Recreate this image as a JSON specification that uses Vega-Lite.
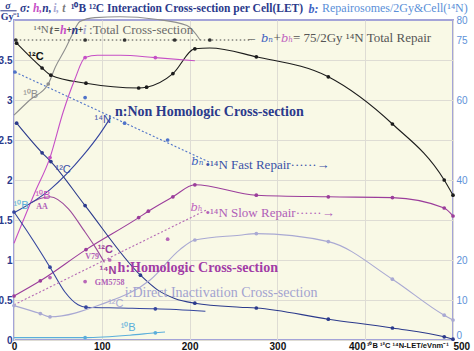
{
"$schema": "https://vega.github.io/schema/vega-lite/v6.json",
"width": 439, "height": 320,
"autosize": {"type": "none"},
"padding": {"left": 14, "top": 20, "right": 21, "bottom": 11},
"background": "#ffffff",
"config": {
  "view": {"fill": "#f9f9e6", "stroke": "#a4a4d8", "strokeWidth": 2},
  "axis": {"gridColor": "#dedcd4", "gridWidth": 1, "domain": false, "ticks": false, "labelFont": "Liberation Sans", "labelFontWeight": "bold", "labelFontSize": 10},
  "axisBottom": {"labelColor": "#111111", "labelPadding": 1},
  "axisLeft": {"labelColor": "#2b3a8c", "labelPadding": 2},
  "axisRight": {"labelColor": "#5d92d8", "labelPadding": 3, "labelFontWeight": "normal"},
  "text": {"baseline": "middle"}
},
"datasets": {
  "curves": [
    {"s":"t14N","x":3,"y":3.71},{"s":"t14N","x":32,"y":3.40},{"s":"t14N","x":42,"y":3.31},{"s":"t14N","x":82,"y":3.21},{"s":"t14N","x":142,"y":3.15},{"s":"t14N","x":151,"y":3.16},{"s":"t14N","x":181,"y":3.33},{"s":"t14N","x":206,"y":3.64},{"s":"t14N","x":223,"y":3.65},{"s":"t14N","x":276,"y":3.54},{"s":"t14N","x":358,"y":3.29},{"s":"t14N","x":431,"y":2.70},{"s":"t14N","x":490,"y":2.0},{"s":"t14N","x":500,"y":1.81},
    {"s":"t10B","x":0,"y":2.81},{"s":"t10B","x":18,"y":3.0},{"s":"t10B","x":39,"y":3.2},{"s":"t10B","x":47,"y":3.41},{"s":"t10B","x":58,"y":3.63},{"s":"t10B","x":66,"y":3.81},{"s":"t10B","x":75,"y":3.98},{"s":"t10B","x":92,"y":4.03},{"s":"t10B","x":121,"y":4.04},{"s":"t10B","x":161,"y":4.01},{"s":"t10B","x":197,"y":3.93},{"s":"t10B","x":212,"y":3.75},
    {"s":"h10B","x":0,"y":1.21},{"s":"h10B","x":24,"y":1.85},{"s":"h10B","x":41,"y":2.28},{"s":"h10B","x":56,"y":2.85},{"s":"h10B","x":69,"y":3.25},{"s":"h10B","x":81,"y":3.53},{"s":"h10B","x":95,"y":3.56},{"s":"h10B","x":121,"y":3.56},{"s":"h10B","x":161,"y":3.53},{"s":"h10B","x":206,"y":3.49},
    {"s":"h14N","x":0,"y":0.55},{"s":"h14N","x":30,"y":0.74},{"s":"h14N","x":82,"y":1.13},{"s":"h14N","x":142,"y":1.53},{"s":"h14N","x":153,"y":1.61},{"s":"h14N","x":181,"y":1.79},{"s":"h14N","x":206,"y":1.94},{"s":"h14N","x":276,"y":1.81},{"s":"h14N","x":358,"y":1.79},{"s":"h14N","x":431,"y":1.78},{"s":"h14N","x":490,"y":1.65},{"s":"h14N","x":500,"y":1.55},
    {"s":"hAA","x":20,"y":1.72},{"s":"hAA","x":30,"y":1.77},{"s":"hAA","x":41,"y":1.79},{"s":"hAA","x":62,"y":1.64},{"s":"hAA","x":79,"y":1.38},{"s":"hAA","x":92,"y":1.17},{"s":"hAA","x":103,"y":0.97},
    {"s":"n12C","x":3,"y":2.71},{"s":"n12C","x":32,"y":2.34},{"s":"n12C","x":42,"y":2.23},{"s":"n12C","x":81,"y":1.68},{"s":"n12C","x":144,"y":0.81},{"s":"n12C","x":163,"y":0.63},{"s":"n12C","x":183,"y":0.52},{"s":"n12C","x":206,"y":0.46},{"s":"n12C","x":257,"y":0.41},{"s":"n12C","x":276,"y":0.40},{"s":"n12C","x":358,"y":0.26},{"s":"n12C","x":431,"y":0.15},{"s":"n12C","x":490,"y":0.04},{"s":"n12C","x":500,"y":0.01},
    {"s":"n10B","x":0,"y":1.6},{"s":"n10B","x":18,"y":1.31},{"s":"n10B","x":41,"y":0.91},{"s":"n10B","x":58,"y":0.6},{"s":"n10B","x":73,"y":0.44},{"s":"n10B","x":82,"y":0.41},{"s":"n10B","x":121,"y":0.40},{"s":"n10B","x":161,"y":0.39},{"s":"n10B","x":218,"y":0.36},
    {"s":"n14N","x":0,"y":1.59},{"s":"n14N","x":41,"y":1.88},{"s":"n14N","x":79,"y":2.31},{"s":"n14N","x":98,"y":2.58},{"s":"n14N","x":110,"y":2.78},
    {"s":"bn","x":1,"y":3.35},{"s":"bn","x":223,"y":2.22},
    {"s":"bh","x":0,"y":0.44},{"s":"bh","x":220,"y":1.63},
    {"s":"i12C","x":0,"y":0.43},{"s":"i12C","x":30,"y":0.33},{"s":"i12C","x":41,"y":0.29},{"s":"i12C","x":98,"y":0.44},{"s":"i12C","x":155,"y":0.75},{"s":"i12C","x":189,"y":1.13},{"s":"i12C","x":206,"y":1.25},{"s":"i12C","x":257,"y":1.31},{"s":"i12C","x":276,"y":1.33},{"s":"i12C","x":358,"y":1.23},{"s":"i12C","x":431,"y":0.76},{"s":"i12C","x":490,"y":0.31},{"s":"i12C","x":500,"y":0.25},
    {"s":"i10B","x":0,"y":0.03},{"s":"i10B","x":81,"y":0.03},{"s":"i10B","x":132,"y":0.06},{"s":"i10B","x":161,"y":0.09},{"s":"i10B","x":172,"y":0.1}
  ],
  "dots": [
    {"s":"t14N","x":3,"y":3.71},{"s":"t14N","x":32,"y":3.40},{"s":"t14N","x":42,"y":3.31},{"s":"t14N","x":82,"y":3.21},{"s":"t14N","x":142,"y":3.15},{"s":"t14N","x":151,"y":3.16},{"s":"t14N","x":181,"y":3.33},{"s":"t14N","x":206,"y":3.64},{"s":"t14N","x":276,"y":3.54},{"s":"t14N","x":358,"y":3.29},{"s":"t14N","x":431,"y":2.70},{"s":"t14N","x":490,"y":2.0},{"s":"t14N","x":500,"y":1.81},
    {"s":"t10B","x":39,"y":3.2},
    {"s":"h10B","x":41,"y":2.28},{"s":"h10B","x":81,"y":3.53},{"s":"h10B","x":161,"y":3.53},
    {"s":"h14N","x":0,"y":0.55},{"s":"h14N","x":30,"y":0.74},{"s":"h14N","x":82,"y":1.13},{"s":"h14N","x":142,"y":1.53},{"s":"h14N","x":153,"y":1.61},{"s":"h14N","x":181,"y":1.79},{"s":"h14N","x":206,"y":1.94},{"s":"h14N","x":276,"y":1.81},{"s":"h14N","x":358,"y":1.79},{"s":"h14N","x":431,"y":1.78},{"s":"h14N","x":490,"y":1.65},{"s":"h14N","x":500,"y":1.55},
    {"s":"n12C","x":3,"y":2.71},{"s":"n12C","x":32,"y":2.34},{"s":"n12C","x":42,"y":2.23},{"s":"n12C","x":81,"y":1.68},{"s":"n12C","x":144,"y":0.81},{"s":"n12C","x":206,"y":0.46},{"s":"n12C","x":276,"y":0.40},{"s":"n12C","x":358,"y":0.26},{"s":"n12C","x":431,"y":0.15},{"s":"n12C","x":490,"y":0.04},{"s":"n12C","x":500,"y":0.01},
    {"s":"n10B","x":0,"y":1.6},{"s":"n10B","x":41,"y":0.91},{"s":"n10B","x":82,"y":0.41},{"s":"n10B","x":161,"y":0.39},
    {"s":"bn","x":1,"y":3.35},{"s":"bn","x":81,"y":3.03},{"s":"bn","x":126,"y":2.71},{"s":"bn","x":175,"y":2.5},
    {"s":"i12C","x":0,"y":0.43},{"s":"i12C","x":30,"y":0.33},{"s":"i12C","x":41,"y":0.29},{"s":"i12C","x":206,"y":1.25},{"s":"i12C","x":276,"y":1.33},{"s":"i12C","x":358,"y":1.23},{"s":"i12C","x":431,"y":0.76},{"s":"i12C","x":490,"y":0.31},{"s":"i12C","x":500,"y":0.25},
    {"s":"i10B","x":81,"y":0.03},{"s":"i10B","x":161,"y":0.09},
    {"s":"cells","x":41,"y":0.78},{"s":"cells","x":81,"y":0.73},{"s":"cells","x":109,"y":1.0},{"s":"cells","x":175,"y":1.26}
  ],
  "repair": [
    {"x":2,"b":75,"m":true},{"x":81,"b":75,"m":true},{"x":126,"b":75,"m":true},{"x":183,"b":75,"m":true},{"x":223,"b":75,"m":true},{"x":271,"b":75,"m":false}
  ]
},
"encoding": {
  "x": {"field": "x", "type": "quantitative", "scale": {"domain": [0, 500], "nice": false},
        "axis": {"values": [0, 100, 200, 300, 400, 500], "title": null, "grid": true,
                 "labelAlign": {"expr": "datum.value == 500 ? 'left' : datum.value == 400 ? 'right' : 'center'"}}}
},
"layer": [
  {
    "encoding": {"y": {"field": "y", "type": "quantitative", "scale": {"domain": [0, 4], "nice": false},
                       "axis": {"values": [0, 0.5, 1, 1.5, 2, 2.5, 3, 3.5], "format": "~g", "title": null, "grid": true, "orient": "left"}}},
    "layer": [
      {"data": {"name": "curves"}, "transform": [{"filter": "datum.s != 'bn' && datum.s != 'bh'"}],
       "mark": {"type": "line", "interpolate": "monotone", "strokeWidth": 1.1},
       "encoding": {"color": {"field": "s", "type": "nominal", "legend": null,
         "scale": {"domain": ["t14N","t10B","h10B","h14N","hAA","n12C","n10B","n14N","bn","bh","i12C","i10B","cells"],
                   "range": ["#1c1c1c","#8e8e8e","#c64fc6","#9b3d9b","#9b4a9b","#2b3a8c","#34459e","#34449e","#4f73c9","#b56ab5","#a9a9d3","#5aaedb","#b866b8"]}}}},
      {"data": {"name": "curves"}, "transform": [{"filter": "datum.s == 'bn' || datum.s == 'bh'"}],
       "mark": {"type": "line", "strokeWidth": 1.1, "strokeDash": [2, 2]},
       "encoding": {"color": {"field": "s", "type": "nominal", "legend": null,
         "scale": {"domain": ["t14N","t10B","h10B","h14N","hAA","n12C","n10B","n14N","bn","bh","i12C","i10B","cells"],
                   "range": ["#1c1c1c","#8e8e8e","#c64fc6","#9b3d9b","#9b4a9b","#2b3a8c","#34459e","#34449e","#4f73c9","#b56ab5","#a9a9d3","#5aaedb","#b866b8"]}}}},
      {"data": {"name": "dots"},
       "mark": {"type": "circle", "size": 14, "opacity": 1},
       "encoding": {"color": {"field": "s", "type": "nominal", "legend": null,
         "scale": {"domain": ["t14N","t10B","h10B","h14N","hAA","n12C","n10B","n14N","bn","bh","i12C","i10B","cells"],
                   "range": ["#1c1c1c","#8e8e8e","#c64fc6","#9b3d9b","#9b4a9b","#2b3a8c","#34459e","#34449e","#4f73c9","#b56ab5","#a9a9d3","#5aaedb","#b866b8"]}}}},
      {"data": {"values": [{"x": -15.5, "x2": 3, "y": 4.115}]},
       "mark": {"type": "rule", "color": "#2b3a8c", "strokeWidth": 1},
       "encoding": {"x2": {"field": "x2"}}},
      {"data": {"values": [{"x": -6.8, "y": 4.17, "t": "σ"}]},
       "mark": {"type": "text", "align": "center", "font": "Liberation Serif", "fontSize": 10, "fontStyle": "italic", "fontWeight": "bold", "color": "#2b3a8c"},
       "encoding": {"text": {"field": "t"}}},
      {"data": {"values": [{"x": -15.2, "y": 4.04, "t": "Gy⁻¹"}]},
       "mark": {"type": "text", "align": "left", "font": "Liberation Serif", "fontSize": 10, "fontWeight": "bold", "color": "#2b3a8c"},
       "encoding": {"text": {"field": "t"}}},
      {"data": {"values": [{"x": 6.8, "y": 4.135, "t": "σ:"}, {"x": 32.2, "y": 4.135, "t": "n,"}]},
       "mark": {"type": "text", "align": "left", "font": "Liberation Serif", "fontSize": 11.5, "fontStyle": "italic", "fontWeight": "bold", "color": "#2b3a8c"},
       "encoding": {"text": {"field": "t"}}},
      {"data": {"values": [{"x": 21.6, "y": 4.135, "t": "h,"}]},
       "mark": {"type": "text", "align": "left", "font": "Liberation Serif", "fontSize": 11.5, "fontStyle": "italic", "fontWeight": "bold", "color": "#c64fc6"},
       "encoding": {"text": {"field": "t"}}},
      {"data": {"values": [{"x": 44.6, "y": 4.135, "t": "i,"}]},
       "mark": {"type": "text", "align": "left", "font": "Liberation Serif", "fontSize": 11.5, "fontStyle": "italic", "fontWeight": "bold", "color": "#a9a9d3"},
       "encoding": {"text": {"field": "t"}}},
      {"data": {"values": [{"x": 54.9, "y": 4.135, "t": "t"}]},
       "mark": {"type": "text", "align": "left", "font": "Liberation Serif", "fontSize": 11.5, "fontStyle": "italic", "fontWeight": "bold", "color": "#7a7a7a"},
       "encoding": {"text": {"field": "t"}}},
      {"data": {"values": [{"x": 64.9, "y": 4.135, "t": "¹⁰B ¹²C Interaction Cross-section per Cell(LET)"}]},
       "mark": {"type": "text", "align": "left", "font": "Liberation Serif", "fontSize": 11.5, "fontWeight": "bold", "color": "#2b3a8c"},
       "encoding": {"text": {"field": "t"}}},
      {"data": {"values": [{"x": 335.5, "y": 4.135, "t": "b:"}]},
       "mark": {"type": "text", "align": "left", "font": "Liberation Serif", "fontSize": 12, "fontStyle": "italic", "fontWeight": "bold", "color": "#3d63c4"},
       "encoding": {"text": {"field": "t"}}},
      {"data": {"values": [{"x": 350.8, "y": 4.145, "t": "Repairosomes/2Gy&Cell(¹⁴N)"}]},
       "mark": {"type": "text", "align": "left", "font": "Liberation Serif", "fontSize": 12, "color": "#5a8fd8"},
       "encoding": {"text": {"field": "t"}}},
      {"data": {"values": [{"x": 22.3, "y": 3.88, "t": "¹⁴N"}]},
       "mark": {"type": "text", "align": "left", "font": "Liberation Serif", "fontSize": 11, "color": "#6a6a6a"},
       "encoding": {"text": {"field": "t"}}},
      {"data": {"values": [{"x": 85.5, "y": 3.88, "t": ":Total Cross-section"}]},
       "mark": {"type": "text", "align": "left", "font": "Liberation Serif", "fontSize": 13, "color": "#6a6a6a"},
       "encoding": {"text": {"field": "t"}}},
      {"data": {"values": [{"x": 40.5, "y": 3.88, "t": "t"}]},
       "mark": {"type": "text", "align": "left", "font": "Liberation Serif", "fontSize": 12, "fontStyle": "italic", "fontWeight": "bold", "color": "#666666"},
       "encoding": {"text": {"field": "t"}}},
      {"data": {"values": [{"x": 45.5, "y": 3.88, "t": "="}, {"x": 59.5, "y": 3.88, "t": "+"}, {"x": 72.5, "y": 3.88, "t": "+"}]},
       "mark": {"type": "text", "align": "left", "font": "Liberation Serif", "fontSize": 10, "fontWeight": "bold", "color": "#333333"},
       "encoding": {"text": {"field": "t"}}},
      {"data": {"values": [{"x": 52.5, "y": 3.88, "t": "h"}]},
       "mark": {"type": "text", "align": "left", "font": "Liberation Serif", "fontSize": 12, "fontStyle": "italic", "fontWeight": "bold", "color": "#c64fc6"},
       "encoding": {"text": {"field": "t"}}},
      {"data": {"values": [{"x": 65.5, "y": 3.88, "t": "n"}]},
       "mark": {"type": "text", "align": "left", "font": "Liberation Serif", "fontSize": 12, "fontStyle": "italic", "fontWeight": "bold", "color": "#2b3a8c"},
       "encoding": {"text": {"field": "t"}}},
      {"data": {"values": [{"x": 78.5, "y": 3.88, "t": "i"}]},
       "mark": {"type": "text", "align": "left", "font": "Liberation Serif", "fontSize": 12, "fontStyle": "italic", "fontWeight": "bold", "color": "#a9a9d3"},
       "encoding": {"text": {"field": "t"}}},
      {"data": {"values": [{"x": 267, "y": 3.775, "t": "–"}, {"x": 295.6, "y": 3.775, "t": "+"}, {"x": 317.8, "y": 3.775, "t": "= 75/2Gy ¹⁴N Total Repair"}]},
       "mark": {"type": "text", "align": "left", "font": "Liberation Serif", "fontSize": 13, "color": "#555555"},
       "encoding": {"text": {"field": "t"}}},
      {"data": {"values": [{"x": 281.3, "y": 3.76, "t": "bₙ"}, {"x": 202, "y": 2.22, "t": "bₙ"}]},
       "mark": {"type": "text", "align": "left", "font": "DejaVu Serif", "fontSize": 11.5, "fontStyle": "italic", "color": "#3d5fc0"},
       "encoding": {"text": {"field": "t"}}},
      {"data": {"values": [{"x": 304, "y": 3.76, "t": "bₕ"}, {"x": 201, "y": 1.65, "t": "bₕ"}]},
       "mark": {"type": "text", "align": "left", "font": "DejaVu Serif", "fontSize": 11.5, "fontStyle": "italic", "color": "#c064c0"},
       "encoding": {"text": {"field": "t"}}},
      {"data": {"values": [{"x": 218, "y": 2.19, "t": "•¹⁴N Fast Repair······→"}]},
       "mark": {"type": "text", "align": "left", "font": "Liberation Serif", "fontSize": 13, "color": "#3a52a8"},
       "encoding": {"text": {"field": "t"}}},
      {"data": {"values": [{"x": 218, "y": 1.59, "t": "•¹⁴N Slow Repair······→"}]},
       "mark": {"type": "text", "align": "left", "font": "Liberation Serif", "fontSize": 13, "color": "#b060b8"},
       "encoding": {"text": {"field": "t"}}},
      {"data": {"values": [{"x": 115, "y": 2.85, "t": "n:Non Homologic Cross-section"}]},
       "mark": {"type": "text", "align": "left", "font": "Liberation Serif", "fontSize": 14, "fontWeight": "bold", "color": "#2b3a8c"},
       "encoding": {"text": {"field": "t"}}},
      {"data": {"values": [{"x": 118, "y": 0.9, "t": "h:Homologic Cross-section"}]},
       "mark": {"type": "text", "align": "left", "font": "Liberation Serif", "fontSize": 14, "fontWeight": "bold", "color": "#a23ca6"},
       "encoding": {"text": {"field": "t"}}},
      {"data": {"values": [{"x": 126, "y": 0.59, "t": "i:Direct Inactivation Cross-section"}]},
       "mark": {"type": "text", "align": "left", "font": "Liberation Serif", "fontSize": 14, "color": "#a3a3d0"},
       "encoding": {"text": {"field": "t"}}},
      {"data": {"values": [{"x": 25, "y": 3.54, "t": "¹²C"}]},
       "mark": {"type": "text", "align": "center", "font": "Liberation Sans", "fontSize": 11, "fontWeight": "bold", "color": "#111111"},
       "encoding": {"text": {"field": "t"}}},
      {"data": {"values": [{"x": 19, "y": 3.06, "t": "¹⁰B"}]},
       "mark": {"type": "text", "align": "center", "font": "Liberation Sans", "fontSize": 11, "color": "#8e8e8e"},
       "encoding": {"text": {"field": "t"}}},
      {"data": {"values": [{"x": 101, "y": 2.75, "t": "¹⁴N"}, {"x": 56, "y": 2.12, "t": "¹²C"}]},
       "mark": {"type": "text", "align": "center", "font": "Liberation Sans", "fontSize": 11, "color": "#3a4ea8"},
       "encoding": {"text": {"field": "t"}}},
      {"data": {"values": [{"x": 33, "y": 1.8, "t": "¹⁰B"}]},
       "mark": {"type": "text", "align": "center", "font": "Liberation Sans", "fontSize": 11, "color": "#c050c0"},
       "encoding": {"text": {"field": "t"}}},
      {"data": {"values": [{"x": 104, "y": 1.12, "t": "¹²C"}, {"x": 107, "y": 0.86, "t": "¹⁴N"}]},
       "mark": {"type": "text", "align": "center", "font": "Liberation Sans", "fontSize": 11, "fontWeight": "bold", "color": "#9b3d9b"},
       "encoding": {"text": {"field": "t"}}},
      {"data": {"values": [{"x": 32, "y": 1.66, "t": "AA"}, {"x": 89, "y": 1.04, "t": "V79"}, {"x": 109, "y": 0.71, "t": "GM5758"}]},
       "mark": {"type": "text", "align": "center", "font": "Liberation Serif", "fontSize": 8, "fontWeight": "bold", "color": "#b060b8"},
       "encoding": {"text": {"field": "t"}}},
      {"data": {"values": [{"x": 8, "y": 1.67, "t": "¹⁰B"}, {"x": 130, "y": 0.15, "t": "¹⁰B"}]},
       "mark": {"type": "text", "align": "center", "font": "Liberation Sans", "fontSize": 11, "color": "#5aaedb"},
       "encoding": {"text": {"field": "t"}}},
      {"data": {"values": [{"x": 116, "y": 0.45, "t": "¹²C"}]},
       "mark": {"type": "text", "align": "center", "font": "Liberation Sans", "fontSize": 11, "color": "#a9a9d3"},
       "encoding": {"text": {"field": "t"}}},
      {"data": {"values": [{"x": 402, "y": -0.075, "t": "¹⁰B ¹²C ¹⁴N-LET/eVnm⁻¹"}]},
       "mark": {"type": "text", "align": "left", "font": "Liberation Sans", "fontSize": 7.5, "fontWeight": "bold", "color": "#111111"},
       "encoding": {"text": {"field": "t"}}}
    ]
  },
  {
    "data": {"name": "repair"},
    "encoding": {"y": {"field": "b", "type": "quantitative", "scale": {"domain": [0, 80], "nice": false},
                       "axis": {"orient": "right", "values": [0, 10, 20, 40, 60, 75, 80], "title": null, "grid": false,
                                "labelBaseline": {"expr": "datum.value == 0 ? 'bottom' : 'middle'"}}}},
    "layer": [
      {"mark": {"type": "line", "color": "#444444", "strokeWidth": 1, "strokeDash": [1.5, 2.5]}},
      {"transform": [{"filter": "datum.m"}], "mark": {"type": "circle", "size": 14, "color": "#333333", "opacity": 1}}
    ]
  }
],
"resolve": {"scale": {"y": "independent"}}
}
